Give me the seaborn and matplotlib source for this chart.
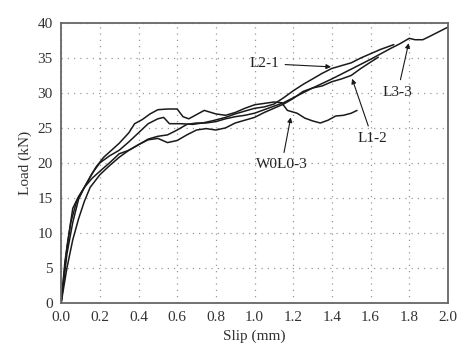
import pandas as pd
import seaborn as sns
import matplotlib.pyplot as plt

# slip (mm) / load (kN)
w0l0_x = [0, 0.02, 0.05, 0.08, 0.1, 0.13, 0.18, 0.22, 0.26, 0.3, 0.35, 0.38, 0.42, 0.46, 0.5, 0.55,
          0.6, 0.63, 0.66, 0.7, 0.74, 0.8, 0.85, 0.9, 0.95, 1.0, 1.05, 1.1, 1.14, 1.17, 1.22, 1.26,
          1.3, 1.34, 1.38, 1.42, 1.46, 1.5, 1.53]
w0l0_y = [0, 6, 11.5, 14.5, 15.5, 17, 19.4, 20.8, 21.8, 22.8, 24.3, 25.6, 26.2, 27.0, 27.6, 27.7,
          27.7, 26.6, 26.3, 26.9, 27.5, 27.0, 26.8, 27.2, 27.8, 28.3, 28.5, 28.7, 28.6, 27.5, 27.1, 26.4,
          26.0, 25.7, 26.1, 26.7, 26.8, 27.1, 27.5]

l21_x = [0, 0.03, 0.06, 0.09, 0.12, 0.16, 0.2, 0.25, 0.3, 0.35, 0.4, 0.45, 0.5, 0.53, 0.56, 0.62,
         0.68, 0.73, 0.78, 0.85, 0.9, 0.95, 1.0, 1.05, 1.1, 1.15, 1.2, 1.25, 1.3, 1.35, 1.4, 1.45,
         1.5, 1.55, 1.6, 1.65, 1.72]
l21_y = [0, 8, 13.5, 15.2, 16.5, 18.5, 20.0, 21.0, 21.8, 23.0, 24.3, 25.6, 26.3, 26.5, 25.6, 25.6,
         25.5, 25.7, 26.0, 26.5, 27.0, 27.4, 27.8, 28.0, 28.4, 29.3, 30.3, 31.2, 32.0, 32.8, 33.5, 33.9,
         34.3, 35.0, 35.6, 36.2, 36.9]

l12_x = [0, 0.03, 0.06, 0.09, 0.12, 0.15, 0.2, 0.25, 0.3, 0.35, 0.4, 0.45, 0.5, 0.55, 0.6, 0.65,
         0.7, 0.75, 0.8, 0.85, 0.9, 0.95, 1.0, 1.05, 1.1, 1.15, 1.2, 1.25, 1.3, 1.35, 1.4, 1.45,
         1.5, 1.55, 1.6, 1.64]
l12_y = [0, 5, 9, 12, 14.5, 16.5, 18.3, 19.6, 20.8, 21.8, 22.6, 23.3, 23.5, 22.9, 23.2, 24.0,
         24.7, 24.9, 24.7, 25.0, 25.7, 26.1, 26.5, 27.2, 27.8, 28.4, 29.2, 30.2, 30.7, 31.0, 31.6, 32.0,
         32.5, 33.5, 34.4, 35.1]

l33_x = [0, 0.03, 0.06, 0.09, 0.12, 0.16, 0.2, 0.25, 0.3, 0.35, 0.4, 0.45, 0.5, 0.55, 0.6, 0.65,
         0.7, 0.75, 0.8, 0.85, 0.9, 0.95, 1.0, 1.05, 1.1, 1.15, 1.2, 1.25, 1.3, 1.4, 1.5, 1.6,
         1.7, 1.75, 1.8, 1.83, 1.87, 1.9, 2.0]
l33_y = [0, 7, 11.5, 14.8, 16.5, 17.8, 18.8, 20.0, 21.3, 21.8, 22.6, 23.4, 23.8, 24.0, 24.7, 25.5,
         25.7, 25.7, 25.9, 26.3, 26.6, 26.8, 27.1, 27.6, 28.1, 28.6, 29.3, 30.0, 30.7, 32.0, 33.4, 34.8,
         36.3, 37.0, 37.8, 37.6, 37.6, 38.0, 39.4]

frames = []
for name, xs, ys in [('W0L0-3', w0l0_x, w0l0_y), ('L2-1', l21_x, l21_y),
                     ('L1-2', l12_x, l12_y), ('L3-3', l33_x, l33_y)]:
    frames.append(pd.DataFrame({'slip': xs, 'load': ys, 'specimen': name}))
df = pd.concat(frames, ignore_index=True)

sns.set_style('white')
plt.rcParams['font.family'] = ['Liberation Serif', 'DejaVu Serif']

fig, ax = plt.subplots(figsize=(4.74, 3.64), dpi=100)
fig.subplots_adjust(left=0.129, right=0.945, bottom=0.168, top=0.937)

sns.lineplot(data=df, x='slip', y='load', units='specimen', estimator=None, sort=False,
             color='#1a1a1a', linewidth=1.1, ax=ax, legend=False)

ax.set_xlim(0, 2.0)
ax.set_ylim(0, 40)
ax.set_xticks([0.0, 0.2, 0.4, 0.6, 0.8, 1.0, 1.2, 1.4, 1.6, 1.8, 2.0])
ax.set_xticklabels(['0.0', '0.2', '0.4', '0.6', '0.8', '1.0', '1.2', '1.4', '1.6', '1.8', '2.0'])
ax.set_yticks(range(0, 41, 5))
ax.grid(True, linestyle=(0, (1, 4)), color='#999999', linewidth=0.9)
ax.tick_params(direction='in', length=4, width=1, colors='#555555', labelsize=11,
               labelcolor='#333333', pad=6)
for s in ax.spines.values():
    s.set_color('#666666')
    s.set_linewidth(1.3)
ax.set_xlabel('Slip (mm)', fontsize=11, color='#333333')
ax.set_ylabel('Load (kN)', fontsize=11, color='#333333')

arrow = dict(arrowstyle='-|>', color='#1a1a1a', lw=0.8, mutation_scale=7)
ax.annotate('L2-1', xy=(1.41, 33.7), xytext=(1.05, 34.2), fontsize=11, ha='center', va='center',
            color='#222222', arrowprops=arrow)
ax.annotate('L3-3', xy=(1.80, 37.5), xytext=(1.74, 30.1), fontsize=11, ha='center', va='center',
            color='#222222', arrowprops=arrow)
ax.annotate('L1-2', xy=(1.50, 32.4), xytext=(1.61, 23.5), fontsize=11, ha='center', va='center',
            color='#222222', arrowprops=arrow)
ax.annotate('W0L0-3', xy=(1.19, 26.9), xytext=(1.14, 19.7), fontsize=11, ha='center', va='center',
            color='#222222', arrowprops=arrow)

plt.savefig('out.png', dpi=100)
